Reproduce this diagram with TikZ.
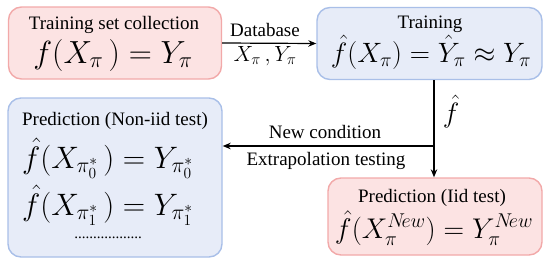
\RequirePackage{fix-cm}
\documentclass[tikz,border=0pt]{standalone}
\usepackage{amsmath}
\usepackage{fontspec}
\setmainfont{Liberation Serif}
\usetikzlibrary{arrows.meta}
\definecolor{pinkfill}{HTML}{FCE3E3}
\definecolor{pinkline}{HTML}{F2A9A9}
\definecolor{bluefill}{HTML}{E7ECF8}
\definecolor{blueline}{HTML}{A9BFE8}
\tikzset{
  pinkbox/.style={draw=pinkline, fill=pinkfill, line width=1.4pt, rounded corners=13pt, inner sep=0pt},
  bluebox/.style={draw=blueline, fill=bluefill, line width=1.4pt, rounded corners=13pt, inner sep=0pt},
  lbl/.style={font=\fontsize{19}{21}\selectfont, inner sep=0pt, anchor=base},
  eq/.style={font=\fontsize{31}{33}\selectfont, inner sep=0pt, anchor=base},
  conn/.style={line width=1.2pt, -{Stealth[length=8pt,width=6.5pt]}},
}
\begin{document}
\begin{tikzpicture}[x=1pt,y=-1pt]
\useasboundingbox (0,0) rectangle (550,268);
% boxes
\node[pinkbox, minimum width=213pt, minimum height=72pt] (box1) at (115,43) {};
\node[bluebox, minimum width=225pt, minimum height=72pt] (box2) at (429.5,43.5) {};
\node[bluebox, minimum width=214pt, minimum height=159pt] (box3) at (115,177.5) {};
\node[pinkbox, minimum width=214pt, minimum height=77pt] (box4) at (435,216.5) {};
% box texts
\node[lbl] (t1) at (114,29) {Training set collection};
\node[eq, font=\fontsize{32}{34}\selectfont] (e1) at (113,63) {$f(X_\pi\,)=Y_\pi$};
\node[lbl] (t2) at (430,28) {Training};
\node[eq, font=\fontsize{28}{30}\selectfont] (e2) at (431,62) {$\hat f(X_\pi)=\hat Y_\pi\approx Y_\pi$};
\node[lbl] (t3) at (115,125) {Prediction (Non-iid test)};
\node[eq, anchor=base west] (e3) at (22,168) {$\hat f(X_{\pi_0^*}\,)=Y_{\pi_0^*}$};
\node[eq, anchor=base west] (e4) at (22,215) {$\hat f(X_{\pi_1^*}\,)=Y_{\pi_1^*}$};
\node[lbl, font=\fontsize{15}{17}\selectfont] (dots) at (108,238) {..................};
\node[lbl] (t4) at (432,202) {Prediction (Iid test)};
\node[eq, font=\fontsize{28.5}{30}\selectfont] (e5) at (434,238) {$\hat f(X_\pi^{N\!ew})=Y_\pi^{N\!ew}$};
% connectors
\draw[conn] (box1.east) -- (box2.west);
\node[lbl] (db) at (265,36) {Database};
\node[lbl, font=\fontsize{22}{24}\selectfont] (xy) at (265,61) {$X_\pi\,,Y_\pi$};
\coordinate (top) at (434,0 |- box2.south);
\coordinate (j) at (434,146);
\draw[conn] (top) -- (top |- box4.north);
\node[eq, font=\fontsize{28}{30}\selectfont] (fh) at (451,122) {$\hat f$};
\draw (j) -- (box3.east |- j) [conn];
\node[lbl] (nc) at (325,138) {New condition};
\node[lbl] (et) at (326,165) {Extrapolation testing};
\end{tikzpicture}
\end{document}
